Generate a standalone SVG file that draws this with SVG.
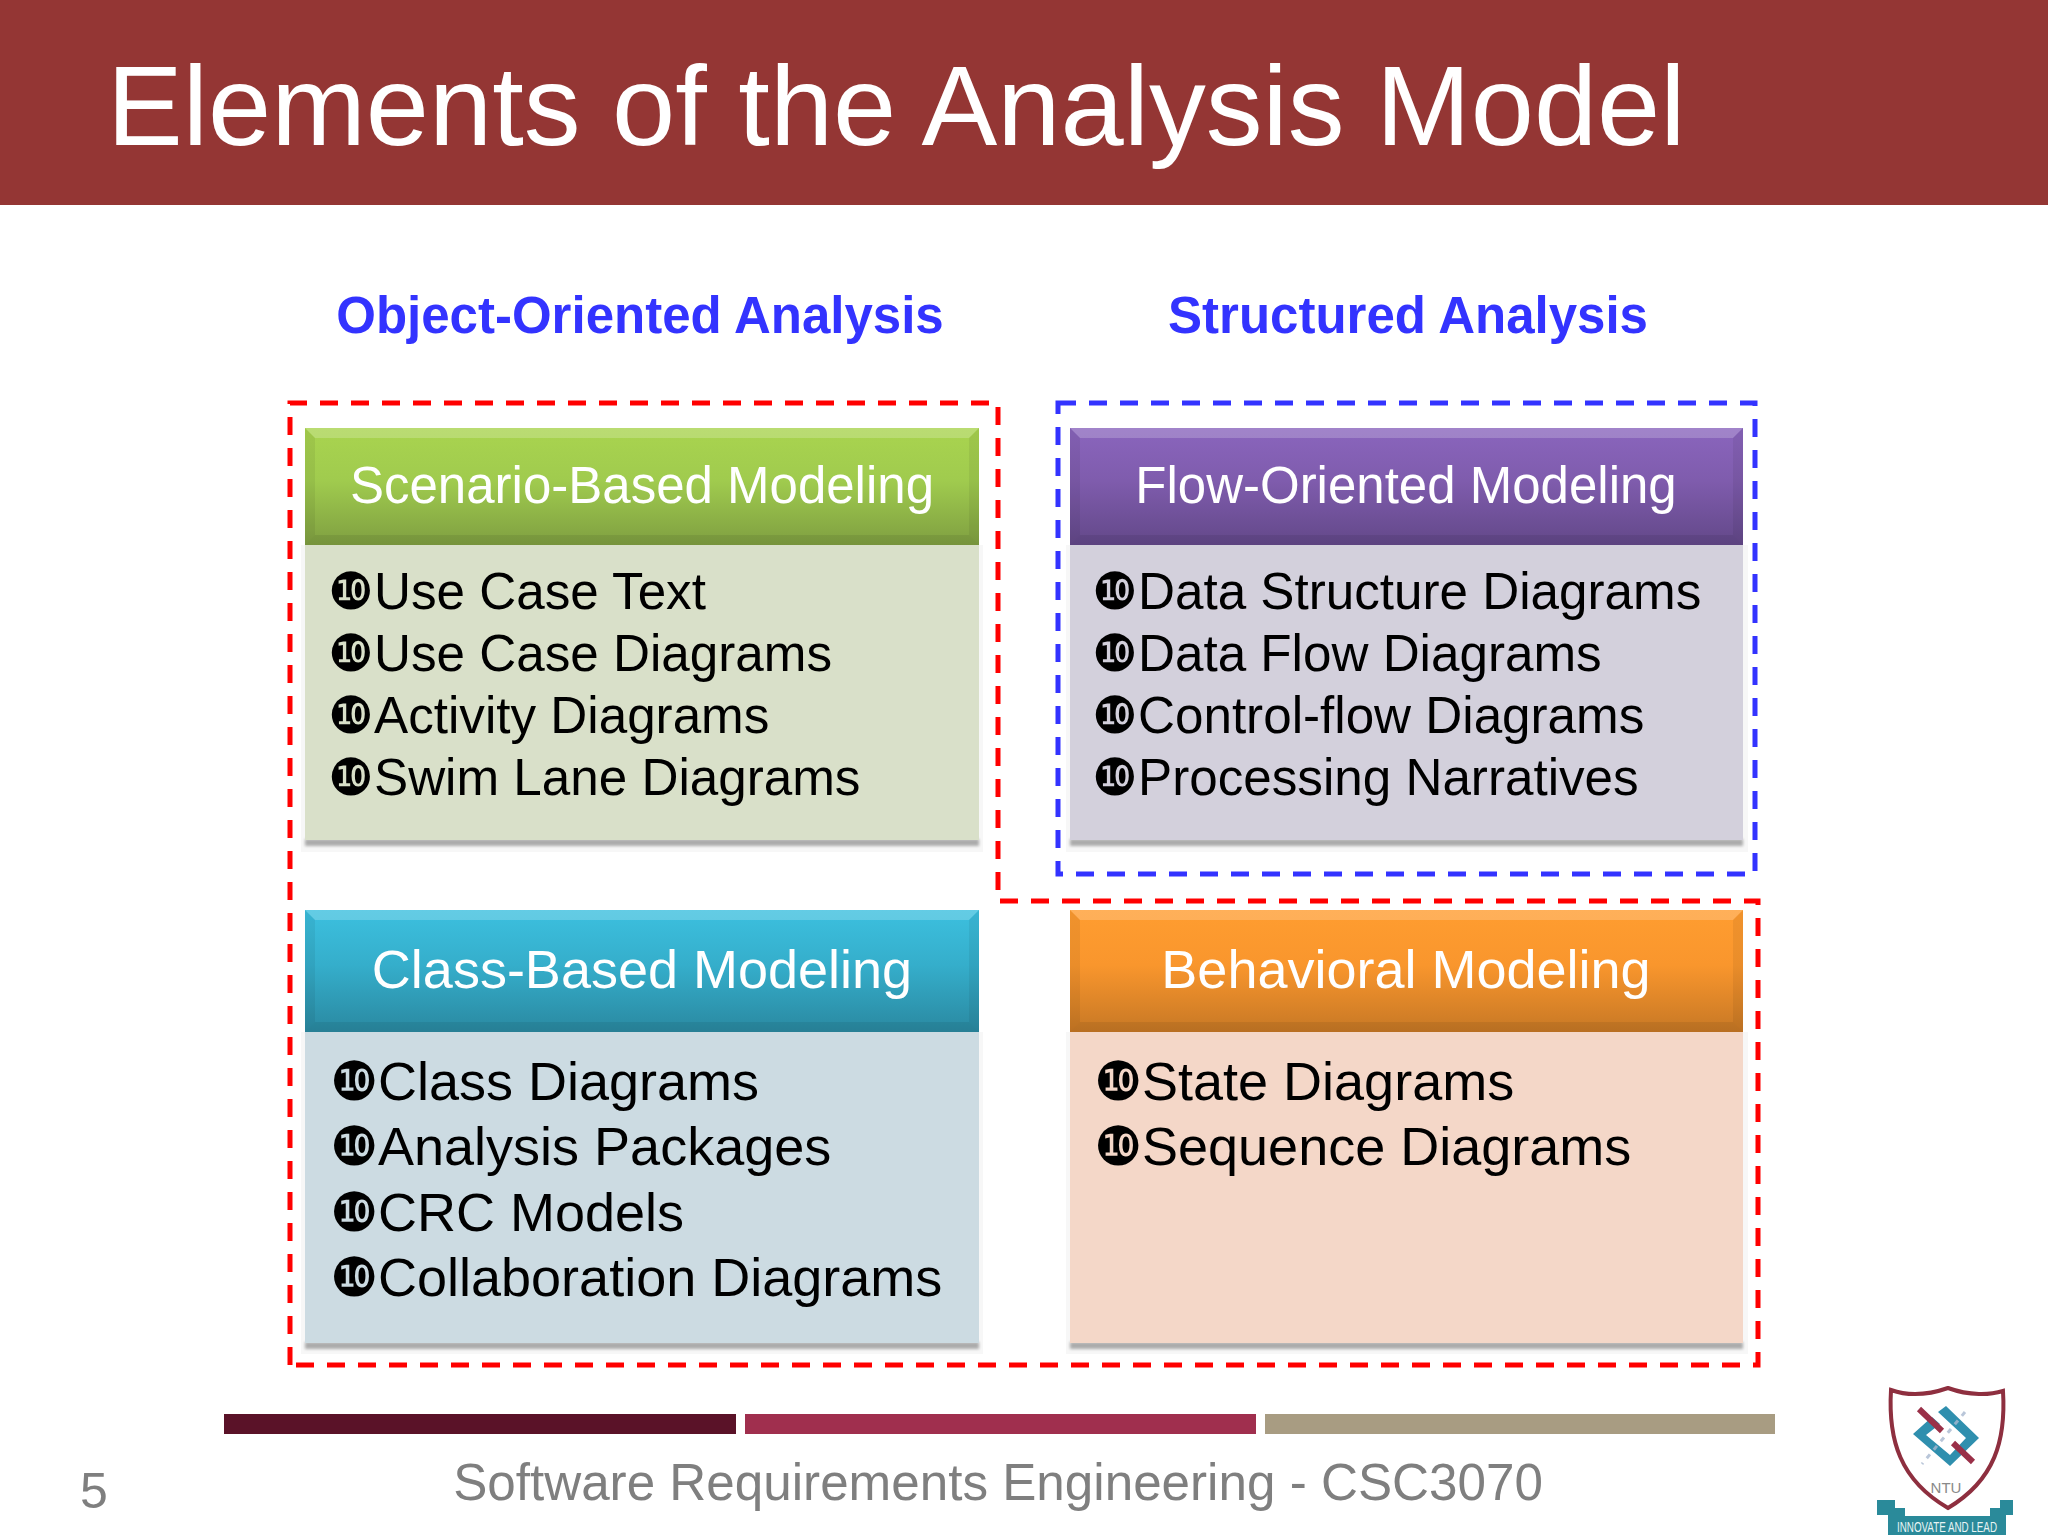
<svg xmlns="http://www.w3.org/2000/svg" width="2048" height="1536" viewBox="0 0 2048 1536">
<style>
text{font-family:"Liberation Sans",Arial,sans-serif}
.head{font-size:51px;fill:#fff;text-anchor:middle}
.head2{font-size:54px;fill:#fff;text-anchor:middle}
.a{font-size:51.2px;fill:#000}
.b{font-size:54px;fill:#000}
.col{font-size:51px;font-weight:bold;fill:#3333ff;text-anchor:middle}
.hl{fill:#fff;opacity:.2}
.dk{fill:#000;opacity:.06}
.dk2{fill:#000;opacity:.07}
.shadow{fill:#000;opacity:.3}
.shadow2{fill:#000;opacity:.03}
.dash{fill:none;stroke-width:5;stroke-dasharray:18 13}
</style>
<defs>
<filter id="soft" x="-5%" y="-100%" width="110%" height="300%"><feGaussianBlur stdDeviation="1.5"/></filter>
<linearGradient id="g1" x1="0" y1="0" x2="0" y2="1"><stop offset="0" stop-color="#a9d44f"/><stop offset=".45" stop-color="#a0cb4e"/><stop offset="1" stop-color="#7f9f41"/></linearGradient>
<linearGradient id="g2" x1="0" y1="0" x2="0" y2="1"><stop offset="0" stop-color="#8a65bd"/><stop offset=".45" stop-color="#7f5cad"/><stop offset="1" stop-color="#634889"/></linearGradient>
<linearGradient id="g3" x1="0" y1="0" x2="0" y2="1"><stop offset="0" stop-color="#3cc0df"/><stop offset=".45" stop-color="#35aecb"/><stop offset="1" stop-color="#2a89a1"/></linearGradient>
<linearGradient id="g4" x1="0" y1="0" x2="0" y2="1"><stop offset="0" stop-color="#ff9d30"/><stop offset=".45" stop-color="#f9962d"/><stop offset="1" stop-color="#c77825"/></linearGradient>
</defs>
<rect id="banner" x="0" y="0" width="2048" height="205" fill="#943634"/>
<text id="title" x="107" y="145" font-size="113.6" fill="#fff">Elements of the Analysis Model</text>
<text class="col" x="640" y="333">Object-Oriented Analysis</text>
<text class="col" x="1408" y="333">Structured Analysis</text>

<g id="scenario">
<rect class="shadow2" x="301" y="545" width="682" height="307"/>
<rect class="shadow" x="305" y="839" width="674" height="7" filter="url(#soft)"/>
<rect x="305" y="545" width="674" height="295" fill="#d9e0c9"/>
<rect x="305" y="428" width="674" height="117" fill="url(#g1)"/>
<polygon class="hl" points="305,428 979,428 969,438 315,438"/>
<polygon class="dk" points="305,428 315,438 315,535 305,545"/>
<polygon class="dk" points="979,428 969,438 969,535 979,545"/>
<polygon class="dk2" points="305,545 315,535 969,535 979,545"/>
<text class="head" x="642" y="503">Scenario-Based Modeling</text>
<text class="a" x="328" y="609">❿Use Case Text</text>
<text class="a" x="328" y="671">❿Use Case Diagrams</text>
<text class="a" x="328" y="733">❿Activity Diagrams</text>
<text class="a" x="328" y="795">❿Swim Lane Diagrams</text>
</g>

<g id="flow">
<rect class="shadow2" x="1066" y="545" width="682" height="307"/>
<rect class="shadow" x="1070" y="839" width="673" height="7" filter="url(#soft)"/>
<rect x="1070" y="545" width="673" height="295" fill="#d3d0dc"/>
<rect x="1070" y="428" width="673" height="117" fill="url(#g2)"/>
<polygon class="hl" points="1070,428 1743,428 1733,438 1080,438"/>
<polygon class="dk" points="1070,428 1080,438 1080,535 1070,545"/>
<polygon class="dk" points="1743,428 1733,438 1733,535 1743,545"/>
<polygon class="dk2" points="1070,545 1080,535 1733,535 1743,545"/>
<text class="head" x="1406" y="503">Flow-Oriented Modeling</text>
<text class="a" x="1092" y="609">❿Data Structure Diagrams</text>
<text class="a" x="1092" y="671">❿Data Flow Diagrams</text>
<text class="a" x="1092" y="733">❿Control-flow Diagrams</text>
<text class="a" x="1092" y="795">❿Processing Narratives</text>
</g>

<g id="class">
<rect class="shadow2" x="301" y="1032" width="682" height="322"/>
<rect class="shadow" x="305" y="1342" width="674" height="7" filter="url(#soft)"/>
<rect x="305" y="1032" width="674" height="311" fill="#ccdbe2"/>
<rect x="305" y="910" width="674" height="122" fill="url(#g3)"/>
<polygon class="hl" points="305,910 979,910 969,920 315,920"/>
<polygon class="dk" points="305,910 315,920 315,1022 305,1032"/>
<polygon class="dk" points="979,910 969,920 969,1022 979,1032"/>
<polygon class="dk2" points="305,1032 315,1022 969,1022 979,1032"/>
<text class="head2" x="642" y="988">Class-Based Modeling</text>
<text class="b" x="330" y="1100">❿Class Diagrams</text>
<text class="b" x="330" y="1165">❿Analysis Packages</text>
<text class="b" x="330" y="1231">❿CRC Models</text>
<text class="b" x="330" y="1296">❿Collaboration Diagrams</text>
</g>

<g id="behavioral">
<rect class="shadow2" x="1066" y="1032" width="682" height="322"/>
<rect class="shadow" x="1070" y="1342" width="673" height="7" filter="url(#soft)"/>
<rect x="1070" y="1032" width="673" height="311" fill="#f4d7c8"/>
<rect x="1070" y="910" width="673" height="122" fill="url(#g4)"/>
<polygon class="hl" points="1070,910 1743,910 1733,920 1080,920"/>
<polygon class="dk" points="1070,910 1080,920 1080,1022 1070,1032"/>
<polygon class="dk" points="1743,910 1733,920 1733,1022 1743,1032"/>
<polygon class="dk2" points="1070,1032 1080,1022 1733,1022 1743,1032"/>
<text class="head2" x="1406" y="988">Behavioral Modeling</text>
<text class="b" x="1094" y="1100">❿State Diagrams</text>
<text class="b" x="1094" y="1165">❿Sequence Diagrams</text>
</g>

<g id="connectors">
<path class="dash" stroke="#ff0000" d="M290 1365V403H998V901H1758V1365Z"/>
<rect class="dash" stroke="#3333ff" x="1058" y="403" width="697" height="471"/>
</g>

<g id="footer">
<rect x="224" y="1414" width="512" height="20" fill="#5a1228"/>
<rect x="745" y="1414" width="511" height="20" fill="#a02f4e"/>
<rect x="1265" y="1414" width="510" height="20" fill="#a89c82"/>
<text x="80" y="1508" font-size="50" fill="#7f7f7f">5</text>
<text x="998" y="1500" font-size="51.2" fill="#7f7f7f" text-anchor="middle">Software Requirements Engineering - CSC3070</text>
</g>

<g id="logo">
<path d="M1891 1390C1905 1395 1925 1396 1948 1388C1970 1396 1990 1395 2003 1391C2006 1440 1995 1480 1948 1508C1900 1480 1888 1440 1891 1390Z" fill="#fff" stroke="#8e2f3f" stroke-width="4"/>
<path d="M1946 1406L1979 1438L1950 1466L1913 1434L1932 1417L1940 1424L1926 1435L1950 1455L1966 1438L1938 1412Z" fill="#2f8fae"/>
<path d="M1919 1409L1942 1431M1953 1443L1973 1462" stroke="#9a3048" stroke-width="6" fill="none"/>
<path d="M1965 1412L1922 1464" stroke="#a8b8d0" stroke-width="3" stroke-dasharray="5 6" fill="none" opacity=".8"/>
<text x="1946" y="1493" font-size="15" fill="#8a8a8a" font-family="Liberation Serif" text-anchor="middle">NTU</text>
<path d="M1877 1500H1895V1508H1905V1516H1990V1508H2000V1500H2013V1515H2006V1535H1888V1515H1877Z" fill="#2a8a9a"/>
<text x="1897" y="1532" font-size="15" fill="#e8f4f4" textLength="100" lengthAdjust="spacingAndGlyphs">INNOVATE AND LEAD</text>
</g>
</svg>
